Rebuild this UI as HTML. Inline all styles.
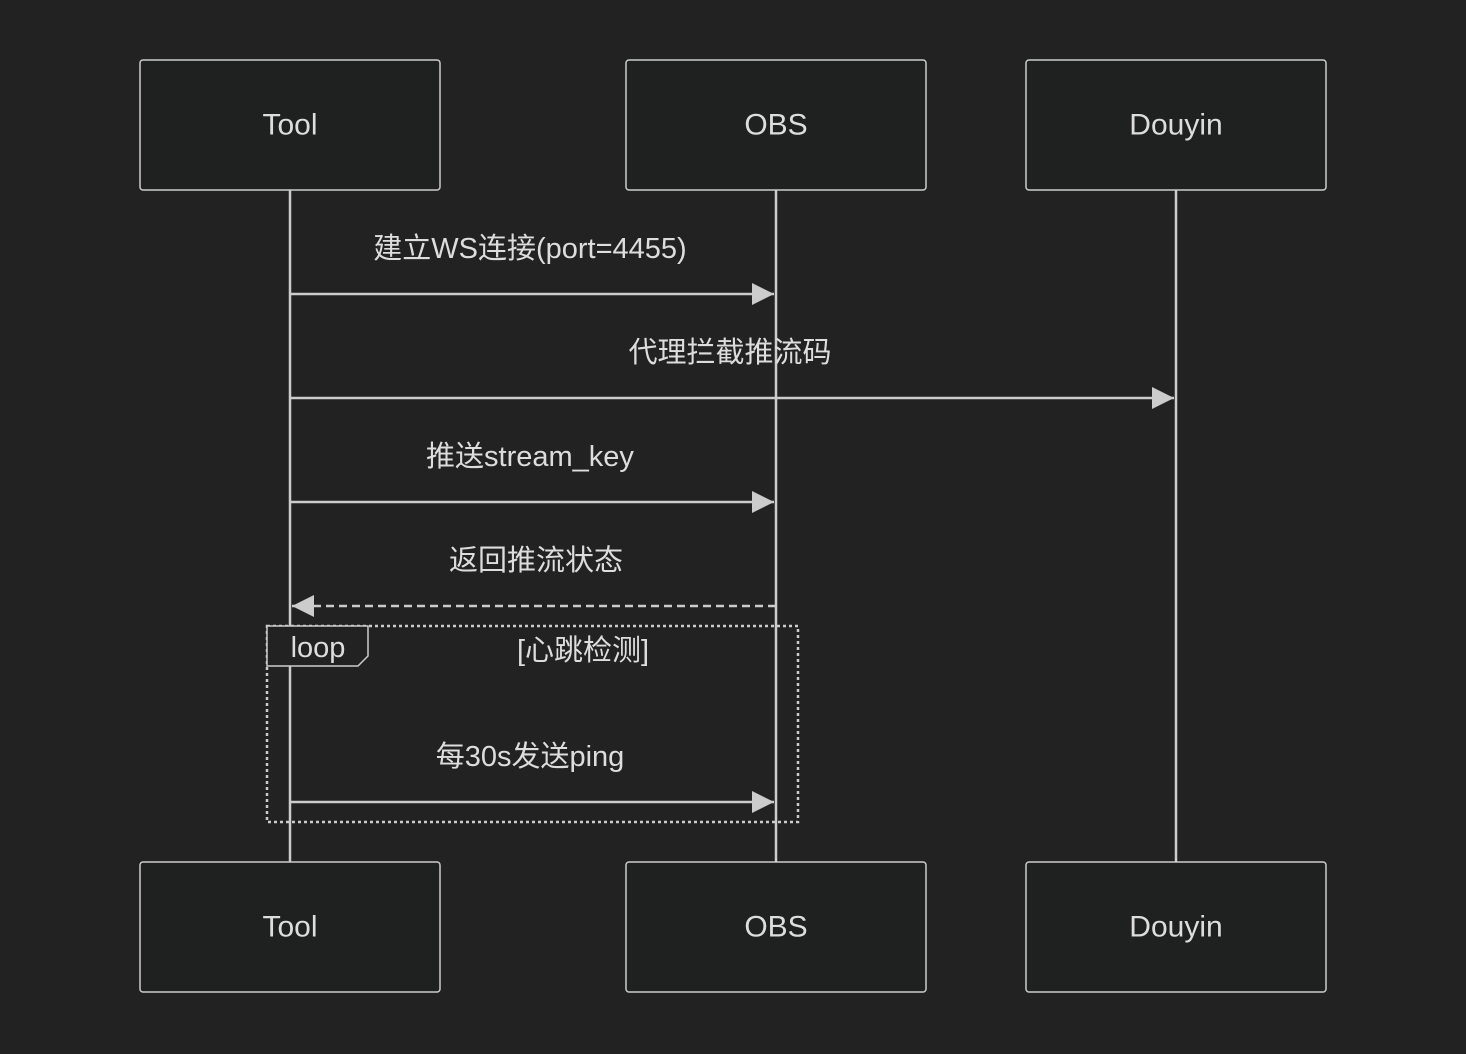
<!DOCTYPE html>
<html><head><meta charset="utf-8"><style>
html,body{margin:0;padding:0;background:#222222;}
svg{display:block}
text{font-family:"Liberation Sans","Noto Sans CJK SC",sans-serif;fill:#dddddd;}
</style></head><body>
<svg width="1466" height="1054" viewBox="0 0 1466 1054" xmlns="http://www.w3.org/2000/svg">
<defs>
<marker id="a" viewBox="0 0 10 10" refX="10" refY="5" markerWidth="22" markerHeight="22" markerUnits="userSpaceOnUse" orient="auto"><path d="M0,0L10,5L0,10z" fill="#cccccc"/></marker>
</defs>
<rect width="1466" height="1054" fill="#222222"/>
<g stroke="#cccccc" stroke-width="2.5">
<line x1="290" y1="190" x2="290" y2="862"/>
<line x1="776" y1="190" x2="776" y2="862"/>
<line x1="1176" y1="190" x2="1176" y2="862"/>
</g>
<g fill="#1f2020" stroke="#cccccc" stroke-width="1.5">
<rect x="140" y="60" width="300" height="130" rx="3"/>
<rect x="626" y="60" width="300" height="130" rx="3"/>
<rect x="1026" y="60" width="300" height="130" rx="3"/>
<rect x="140" y="862" width="300" height="130" rx="3"/>
<rect x="626" y="862" width="300" height="130" rx="3"/>
<rect x="1026" y="862" width="300" height="130" rx="3"/>
</g>
<g font-size="30" text-anchor="middle" dominant-baseline="central">
<text x="290" y="125">Tool</text><text x="776" y="125">OBS</text><text x="1176" y="125">Douyin</text>
<text x="290" y="927">Tool</text><text x="776" y="927">OBS</text><text x="1176" y="927">Douyin</text>
</g>
<g stroke="#cccccc" stroke-width="2.5" fill="none">
<line x1="290" y1="294" x2="774" y2="294" marker-end="url(#a)"/>
<line x1="290" y1="398" x2="1174" y2="398" marker-end="url(#a)"/>
<line x1="290" y1="502" x2="774" y2="502" marker-end="url(#a)"/>
<line x1="776" y1="606" x2="292" y2="606" stroke-dasharray="8,5" marker-end="url(#a)"/>
<line x1="290" y1="802" x2="774" y2="802" marker-end="url(#a)"/>
<rect x="267" y="626" width="531" height="196" stroke-width="2.5" stroke-dasharray="3,3"/>
<path d="M267,626H368V656L358,666H267Z" fill="#222222" stroke-width="1.5"/>
</g>
<g font-size="29" text-anchor="middle" dominant-baseline="central">
<text x="530" y="249">建立WS连接(port=4455)</text>
<text x="730" y="353">代理拦截推流码</text>
<text x="530" y="457">推送stream_key</text>
<text x="536" y="561">返回推流状态</text>
<text x="583" y="651">[心跳检测]</text>
<text x="530" y="757">每30s发送ping</text>
<text x="318" y="648">loop</text>
</g>
</svg>
</body></html>
